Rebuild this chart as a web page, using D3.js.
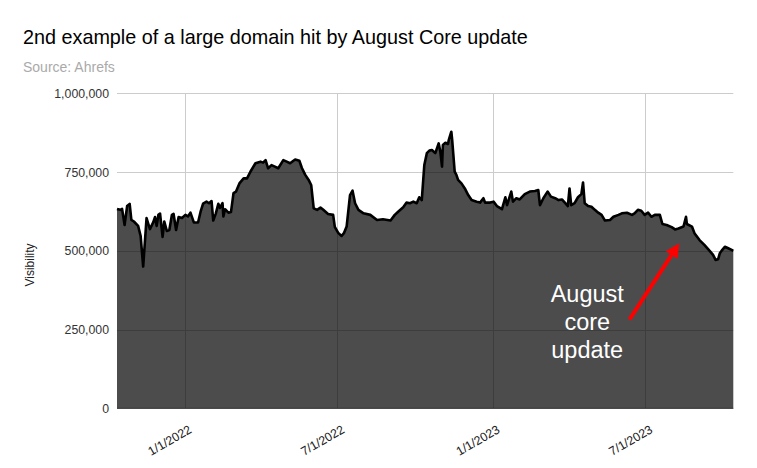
<!DOCTYPE html>
<html>
<head>
<meta charset="utf-8">
<script src="https://cdn.jsdelivr.net/npm/d3@7"></script>
<style>
body { margin:0; background:#fff; }
text { font-family: Arial, "Liberation Sans", sans-serif; }
</style>
</head>
<body>
<svg id="chart" width="757" height="468"></svg>
<script>
var dates = ["2021-10-13","2021-10-17","2021-10-19","2021-10-22","2021-10-25","2021-10-28","2021-10-30","2021-11-02","2021-11-07","2021-11-10",
 "2021-11-13","2021-11-17","2021-11-21","2021-11-25","2021-11-27","2021-11-29","2021-12-01","2021-12-03","2021-12-06","2021-12-08",
 "2021-12-11","2021-12-14","2021-12-17","2021-12-19","2021-12-22","2021-12-25","2021-12-29","2022-01-02","2022-01-05","2022-01-08",
 "2022-01-12","2022-01-17","2022-01-20","2022-01-23","2022-01-27","2022-01-30","2022-02-02","2022-02-04","2022-02-07","2022-02-10",
 "2022-02-12","2022-02-15","2022-02-16","2022-02-18","2022-02-22","2022-02-25","2022-02-28","2022-03-03","2022-03-07","2022-03-12",
 "2022-03-16","2022-03-20","2022-03-26","2022-04-01","2022-04-04","2022-04-07","2022-04-10","2022-04-14","2022-04-18","2022-04-22",
 "2022-04-28","2022-05-02","2022-05-06","2022-05-12","2022-05-17","2022-05-20","2022-05-24","2022-05-28","2022-05-31","2022-06-03",
 "2022-06-07","2022-06-11","2022-06-14","2022-06-20","2022-06-26","2022-06-28","2022-07-02","2022-07-06","2022-07-09","2022-07-12",
 "2022-07-16","2022-07-19","2022-07-22","2022-07-26","2022-08-01","2022-08-09","2022-08-17","2022-08-24","2022-09-02","2022-09-07",
 "2022-09-11","2022-09-17","2022-09-21","2022-09-25","2022-09-29","2022-10-03","2022-10-06","2022-10-09","2022-10-12","2022-10-15",
 "2022-10-18","2022-10-21","2022-10-25","2022-10-29","2022-10-31","2022-11-02","2022-11-03","2022-11-06","2022-11-09","2022-11-10",
 "2022-11-13","2022-11-14","2022-11-17","2022-11-19","2022-11-21","2022-11-25","2022-11-29","2022-12-03","2022-12-07","2022-12-13",
 "2022-12-17","2022-12-21","2022-12-23","2022-12-29","2023-01-02","2023-01-06","2023-01-12","2023-01-16","2023-01-18","2023-01-23",
 "2023-01-25","2023-01-29","2023-02-02","2023-02-08","2023-02-14","2023-02-20","2023-02-24","2023-02-26","2023-03-02","2023-03-07",
 "2023-03-11","2023-03-16","2023-03-20","2023-03-24","2023-03-28","2023-03-31","2023-04-02","2023-04-04","2023-04-08","2023-04-12",
 "2023-04-16","2023-04-18","2023-04-20","2023-04-24","2023-04-28","2023-05-02","2023-05-06","2023-05-10","2023-05-14","2023-05-20",
 "2023-05-24","2023-05-30","2023-06-03","2023-06-09","2023-06-15","2023-06-18","2023-06-22","2023-06-26","2023-06-30","2023-07-04",
 "2023-07-08","2023-07-12","2023-07-18","2023-07-21","2023-07-26","2023-08-01","2023-08-05","2023-08-09","2023-08-15","2023-08-18",
 "2023-08-19","2023-08-25","2023-08-28","2023-09-03","2023-09-09","2023-09-15","2023-09-19","2023-09-22","2023-09-25","2023-09-27",
 "2023-09-30","2023-10-03","2023-10-07","2023-10-11","2023-10-13"];

var visibility = [633000,630000,633000,582000,642000,649000,598000,593000,579000,547000,
 450000,604000,569000,591000,607000,579000,614000,618000,544000,593000,
 563000,566000,614000,617000,566000,607000,604000,614000,609000,621000,
 590000,590000,624000,650000,656000,651000,658000,596000,618000,649000,
 636000,651000,609000,632000,621000,623000,683000,688000,714000,730000,
 730000,751000,778000,783000,780000,788000,762000,772000,767000,762000,
 788000,783000,778000,790000,786000,763000,741000,725000,709000,635000,
 630000,637000,631000,617000,614000,576000,557000,547000,557000,577000,
 677000,691000,651000,630000,619000,614000,598000,600000,596000,614000,
 624000,638000,653000,651000,656000,651000,670000,661000,772000,810000,
 818000,820000,810000,841000,815000,767000,836000,843000,839000,852000,
 878000,852000,751000,741000,725000,714000,698000,677000,661000,656000,
 653000,667000,653000,653000,656000,642000,632000,670000,645000,688000,
 656000,667000,663000,680000,688000,690000,693000,645000,667000,688000,
 672000,667000,661000,663000,651000,642000,698000,645000,651000,670000,
 680000,717000,651000,642000,640000,630000,621000,614000,596000,598000,
 608000,614000,619000,621000,614000,619000,630000,627000,614000,621000,
 608000,614000,614000,585000,582000,575000,568000,571000,577000,608000,
 585000,577000,556000,534000,518000,500000,487000,471000,473000,492000,
 503000,513000,508000,503000,500000];

var yTicks = [0, 250000, 500000, 750000, 1000000];
var xTicks = ["2022-01-01","2022-07-01","2023-01-01","2023-07-01"];
var domainDates = ["2021-10-13","2023-10-13"];

// annotation anchor points (date, value)
var noteText = ["August","core","update"];
var noteAt = ["2023-04-23", 0];
var arrowFrom = ["2023-06-12", 282000];
var arrowTo = ["2023-08-10", 524000];

var parse = d3.timeParse("%Y-%m-%d");
var svg = d3.select("#chart");

var plotLeft = 117, plotRight = 733.3, plotTop = 93.3, plotBottom = 408.3;

var xScale = d3.scaleTime()
	.domain(domainDates.map(parse))
	.range([plotLeft, plotRight]);
var yScale = d3.scaleLinear()
	.domain([0, 1000000])
	.range([plotBottom, plotTop]);

var data = dates.map(function(d, i){ return {date: parse(d), value: visibility[i]}; });

svg.append("text")
	.attr("x", 23).attr("y", 44)
	.attr("font-size", 19.8)
	.attr("fill", "#000")
	.text("2nd example of a large domain hit by August Core update");
svg.append("text")
	.attr("x", 23).attr("y", 72)
	.attr("font-size", 14)
	.attr("fill", "#aaa")
	.text("Source: Ahrefs");

// grid
var grid = svg.append("g").attr("class", "grid");
grid.selectAll("line.h")
	.data(yTicks).enter()
	.append("line")
	.attr("class", "h")
	.attr("x1", plotLeft).attr("x2", plotRight)
	.attr("y1", function(v){ return Math.round(yScale(v)) + 0.5; })
	.attr("y2", function(v){ return Math.round(yScale(v)) + 0.5; })
	.attr("stroke", "#cccccc");
grid.selectAll("line.v")
	.data(xTicks).enter()
	.append("line")
	.attr("class", "v")
	.attr("x1", function(d){ return Math.round(xScale(parse(d))) + 0.5; })
	.attr("x2", function(d){ return Math.round(xScale(parse(d))) + 0.5; })
	.attr("y1", plotTop).attr("y2", plotBottom)
	.attr("stroke", "#cccccc");

var area = d3.area()
	.x(function(d){ return xScale(d.date); })
	.y0(yScale(0))
	.y1(function(d){ return yScale(d.value); });
var line = d3.line()
	.x(function(d){ return xScale(d.date); })
	.y(function(d){ return yScale(d.value); });

svg.append("path")
	.datum(data)
	.attr("d", area)
	.attr("fill", "#000")
	.attr("fill-opacity", 0.7);

svg.append("line")
	.attr("x1", plotLeft).attr("x2", plotRight)
	.attr("y1", yScale(0)).attr("y2", yScale(0))
	.attr("stroke", "#333")
	.attr("stroke-width", 1);

svg.append("path")
	.datum(data)
	.attr("d", line)
	.attr("fill", "none")
	.attr("stroke", "#000")
	.attr("stroke-width", 2.6)
	.attr("stroke-linejoin", "round");

// axes labels
svg.selectAll("text.ytick")
	.data(yTicks).enter()
	.append("text")
	.attr("class", "ytick")
	.attr("x", 109)
	.attr("y", function(v){ return yScale(v) + 4.5; })
	.attr("text-anchor", "end")
	.attr("font-size", 12.3)
	.attr("fill", "#333")
	.text(function(v){ return d3.format(",")(v); });

svg.selectAll("text.xtick")
	.data(xTicks).enter()
	.append("text")
	.attr("class", "xtick")
	.attr("text-anchor", "end")
	.attr("font-size", 12.3)
	.attr("fill", "#222")
	.attr("transform", function(d){
		var x = xScale(parse(d)) + 8;
		return "translate(" + x + "," + 432 + ") rotate(-30)";
	})
	.text(function(d){ var t = parse(d); return (t.getMonth()+1) + "/" + t.getDate() + "/" + t.getFullYear(); });

svg.append("text")
	.attr("transform", "translate(34,265) rotate(-90)")
	.attr("text-anchor", "middle")
	.attr("font-size", 12)
	.attr("fill", "#222")
	.text("Visibility");

// annotation
var nx = xScale(parse(noteAt[0]));
svg.selectAll("text.note")
	.data(noteText).enter()
	.append("text")
	.attr("class", "note")
	.attr("x", nx)
	.attr("y", function(d, i){ return 302 + i*28; })
	.attr("text-anchor", "middle")
	.attr("font-family", "Roboto, Arial, sans-serif")
	.attr("font-size", 23.5)
	.attr("fill", "#fff")
	.text(function(d){ return d; });

var ax1 = xScale(parse(arrowFrom[0])), ay1 = yScale(arrowFrom[1]);
var ax2 = xScale(parse(arrowTo[0])), ay2 = yScale(arrowTo[1]);
var ang = Math.atan2(ay2 - ay1, ax2 - ax1);
var headLen = 14, headW = 7;
var bx = ax2 - headLen*Math.cos(ang), by = ay2 - headLen*Math.sin(ang);
svg.append("line")
	.attr("x1", ax1).attr("y1", ay1)
	.attr("x2", bx).attr("y2", by)
	.attr("stroke", "#ff0000")
	.attr("stroke-width", 4);
svg.append("path")
	.attr("d", "M" + ax2 + "," + ay2
		+ "L" + (bx + headW*Math.sin(ang)) + "," + (by - headW*Math.cos(ang))
		+ "L" + (bx - headW*Math.sin(ang)) + "," + (by + headW*Math.cos(ang)) + "Z")
	.attr("fill", "#ff0000");
</script>
</body>
</html>
